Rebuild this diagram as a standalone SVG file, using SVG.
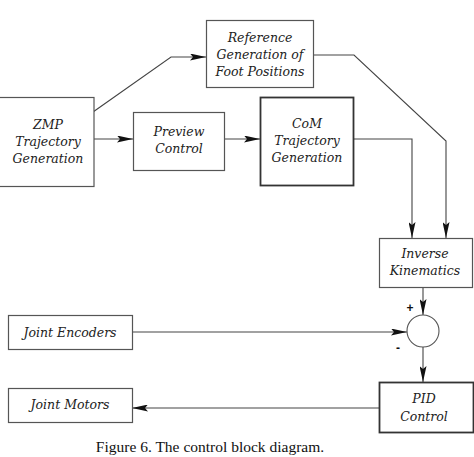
<svg xmlns="http://www.w3.org/2000/svg" width="474" height="457" viewBox="0 0 474 457">
<style>
.box{fill:#fff;stroke:#555;stroke-width:1.2}
.thick{stroke:#333;stroke-width:1.8}
.ln{fill:none;stroke:#444;stroke-width:1.1}
.t{font-family:"DejaVu Serif","Liberation Serif",serif;font-style:italic;font-size:12.5px;fill:#222;text-anchor:middle}
.cap{font-family:"Liberation Serif","Times New Roman",serif;font-size:15.5px;fill:#111;text-anchor:middle}
.s{font-family:"Liberation Sans",Arial,sans-serif;font-size:12px;fill:#111;text-anchor:middle;font-weight:bold}
</style>
<defs>
<marker id="ah" viewBox="0 0 16 7" refX="16" refY="3.5" markerWidth="16" markerHeight="7" markerUnits="userSpaceOnUse" orient="auto">
<path d="M0,0 L16,3.5 L0,7 L3,3.5 Z" fill="#111"/>
</marker>
</defs>
<rect width="474" height="457" fill="#fff"/>
<g id="connectors">
<polyline class="ln" points="93,112 171,57 206,57" marker-end="url(#ah)"/>
<polyline class="ln" points="313,55 354,55 446,141 446,238" marker-end="url(#ah)"/>
<line class="ln" x1="94" y1="139" x2="133" y2="139" marker-end="url(#ah)"/>
<line class="ln" x1="224" y1="139" x2="260" y2="139" marker-end="url(#ah)"/>
<polyline class="ln" points="354,139 412,139 412,238" marker-end="url(#ah)"/>
<line class="ln" x1="423" y1="287" x2="423" y2="315" marker-end="url(#ah)"/>
<line class="ln" x1="132" y1="332" x2="407" y2="332" marker-end="url(#ah)"/>
<line class="ln" x1="423" y1="347" x2="423" y2="382" marker-end="url(#ah)"/>
<line class="ln" x1="379" y1="408" x2="132" y2="408" marker-end="url(#ah)"/>
</g>
<g id="ref">
<rect class="box" x="206.5" y="20.5" width="107" height="67"/>
<text class="t" x="260" y="42">Reference</text>
<text class="t" x="260" y="59">Generation of</text>
<text class="t" x="260" y="76">Foot Positions</text>
</g>
<g id="zmp">
<rect class="box" x="-1" y="97.5" width="95" height="89"/>
<text class="t" x="48" y="129">ZMP</text>
<text class="t" x="48" y="146">Trajectory</text>
<text class="t" x="48" y="163">Generation</text>
</g>
<g id="preview">
<rect class="box" x="133.5" y="112.5" width="91" height="58"/>
<text class="t" x="179" y="136">Preview</text>
<text class="t" x="179" y="153">Control</text>
</g>
<g id="com">
<rect class="box thick" x="260.5" y="97.5" width="93" height="88"/>
<text class="t" x="307" y="128">CoM</text>
<text class="t" x="307" y="145">Trajectory</text>
<text class="t" x="307" y="162">Generation</text>
</g>
<g id="ik">
<rect class="box" x="379.5" y="238.5" width="93" height="49"/>
<text class="t" x="425" y="258">Inverse</text>
<text class="t" x="425" y="275">Kinematics</text>
</g>
<g id="sum">
<circle cx="423" cy="331" r="16" fill="#fff" stroke="#555" stroke-width="1.1"/>
<text class="s" x="410" y="312">+</text>
<text class="s" x="398" y="352">-</text>
</g>
<g id="encoders">
<rect class="box" x="8.5" y="315.5" width="124" height="34"/>
<text class="t" x="70" y="337">Joint Encoders</text>
</g>
<g id="pid">
<rect class="box thick" x="379.5" y="382.5" width="94" height="50"/>
<text class="t" x="424" y="403">PID</text>
<text class="t" x="424" y="421">Control</text>
</g>
<g id="motors">
<rect class="box" x="8.5" y="388.5" width="124" height="34"/>
<text class="t" x="70" y="409">Joint Motors</text>
</g>
<text class="cap" x="210" y="452">Figure 6. The control block diagram.</text>
</svg>
